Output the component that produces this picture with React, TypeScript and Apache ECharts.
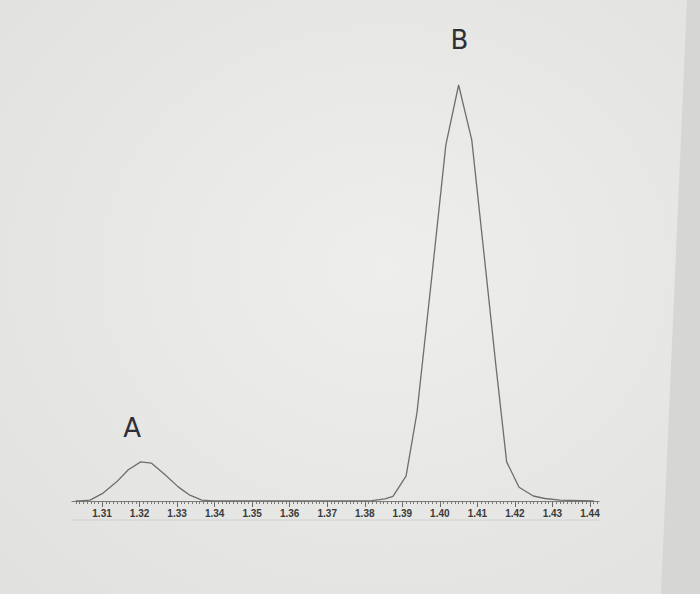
import React, { useEffect, useRef } from "react";
import * as echarts from "echarts";

// Refractive-index-like axis (unitless), peak heights in relative units
const xValues = [
  1.3030, 1.3040, 1.3068, 1.3103, 1.3139, 1.3170, 1.3203, 1.3232, 1.3268, 1.3303, 1.3334, 1.3366, 1.3396,
  1.3819, 1.3854, 1.3875, 1.3910, 1.3939, 1.3979, 1.4016, 1.4050, 1.4085, 1.4118, 1.4150, 1.4178, 1.4211,
  1.4249, 1.4280, 1.4320, 1.4410,
];
const yValues = [
  0, 0, 0.2, 1.9, 4.6, 7.5, 9.4, 9.1, 6.3, 3.4, 1.4, 0.2, 0,
  0.1, 0.5, 1.1, 6.0, 21.2, 54.3, 85.6, 100, 86.8, 59.1, 32.0, 9.4, 3.3,
  1.2, 0.6, 0.2, 0,
];
const tickLabels = ["1.31", "1.32", "1.33", "1.34", "1.35", "1.36", "1.37", "1.38", "1.39", "1.40", "1.41", "1.42", "1.43", "1.44"];
const peakNames = ["A", "B"];
const peakLabelX = [1.3180, 1.4052];
const peakLabelY = [17.5, 110.8];

const X_MIN = 1.302;
const X_MAX = 1.4424;

export default function App() {
  const ref = useRef<HTMLDivElement>(null);
  useEffect(() => {
    document.body.style.margin = "0";
    if (!ref.current) return;
    const chart = echarts.init(ref.current, undefined, { renderer: "svg" });
    const labelVals = tickLabels.map((t) => parseFloat(t));
    const minorVals: number[] = [];
    for (let i = 1303; i <= 1442; i++) minorVals.push(i / 1000);
    const data = xValues.map((x, i) => [x, yValues[i]]);
    chart.setOption({
      animation: false,
      backgroundColor: {
        type: "radial",
        x: 0.55,
        y: 0.45,
        r: 0.75,
        colorStops: [
          { offset: 0, color: "#eeeeec" },
          { offset: 1, color: "#e1e1df" },
        ],
      },
      grid: { left: 72, right: 101, top: 85, bottom: 93, outerBoundsMode: "none" },
      xAxis: [
        {
          type: "value",
          min: X_MIN,
          max: X_MAX,
          axisLine: { lineStyle: { color: "#7a7a7a", width: 1.2 } },
          axisTick: { customValues: minorVals, length: 3, lineStyle: { color: "#7a7a7a", width: 1 } },
          axisLabel: {
            customValues: labelVals,
            formatter: (v: number) => v.toFixed(2),
            fontFamily: "Liberation Sans Narrow, Arial Narrow, sans-serif",
            fontWeight: "bold",
            fontSize: 10,
            color: "#3a3a3a",
            margin: 7,
          },
          splitLine: { show: false },
        },
        {
          type: "value",
          min: X_MIN,
          max: X_MAX,
          position: "bottom",
          axisLine: { show: false },
          axisTick: { customValues: labelVals, length: 6, lineStyle: { color: "#6a6a6a", width: 1 } },
          axisLabel: { show: false },
          splitLine: { show: false },
        },
      ],
      yAxis: { type: "value", min: 0, max: 100, show: false },
      series: [
        {
          type: "line",
          data,
          showSymbol: false,
          symbol: "none",
          smooth: false,
          clip: false,
          lineStyle: { color: "#6e6e6e", width: 1.3 },
        },
      ],
    });
    const texts = peakNames.map((name, i) => {
      const p = chart.convertToPixel({ gridIndex: 0 }, [peakLabelX[i], peakLabelY[i]]) as number[];
      return {
        type: "text",
        x: p[0],
        y: p[1],
        style: {
          text: name,
          fontFamily: "DejaVu Sans",
          fontSize: 26,
          fill: "#2f2f35",
          align: "center",
          verticalAlign: "middle",
        },
      };
    });
    const left = chart.convertToPixel({ gridIndex: 0 }, [X_MIN, 0]) as number[];
    const right = chart.convertToPixel({ gridIndex: 0 }, [X_MAX, 0]) as number[];
    chart.setOption({
      graphic: [
        {
          type: "polygon",
          z: -1,
          shape: { points: [[687, 0], [700, 0], [700, 594], [661, 594]] },
          style: { fill: "#d6d6d4" },
        },
        {
          type: "line",
          shape: { x1: left[0], y1: left[1] + 19, x2: right[0], y2: right[1] + 19 },
          style: { stroke: "#d0d0ce", lineWidth: 1 },
        },
        ...texts,
      ],
    });
    return () => chart.dispose();
  }, []);
  return <div ref={ref} style={{ width: 700, height: 594 }} />;
}
